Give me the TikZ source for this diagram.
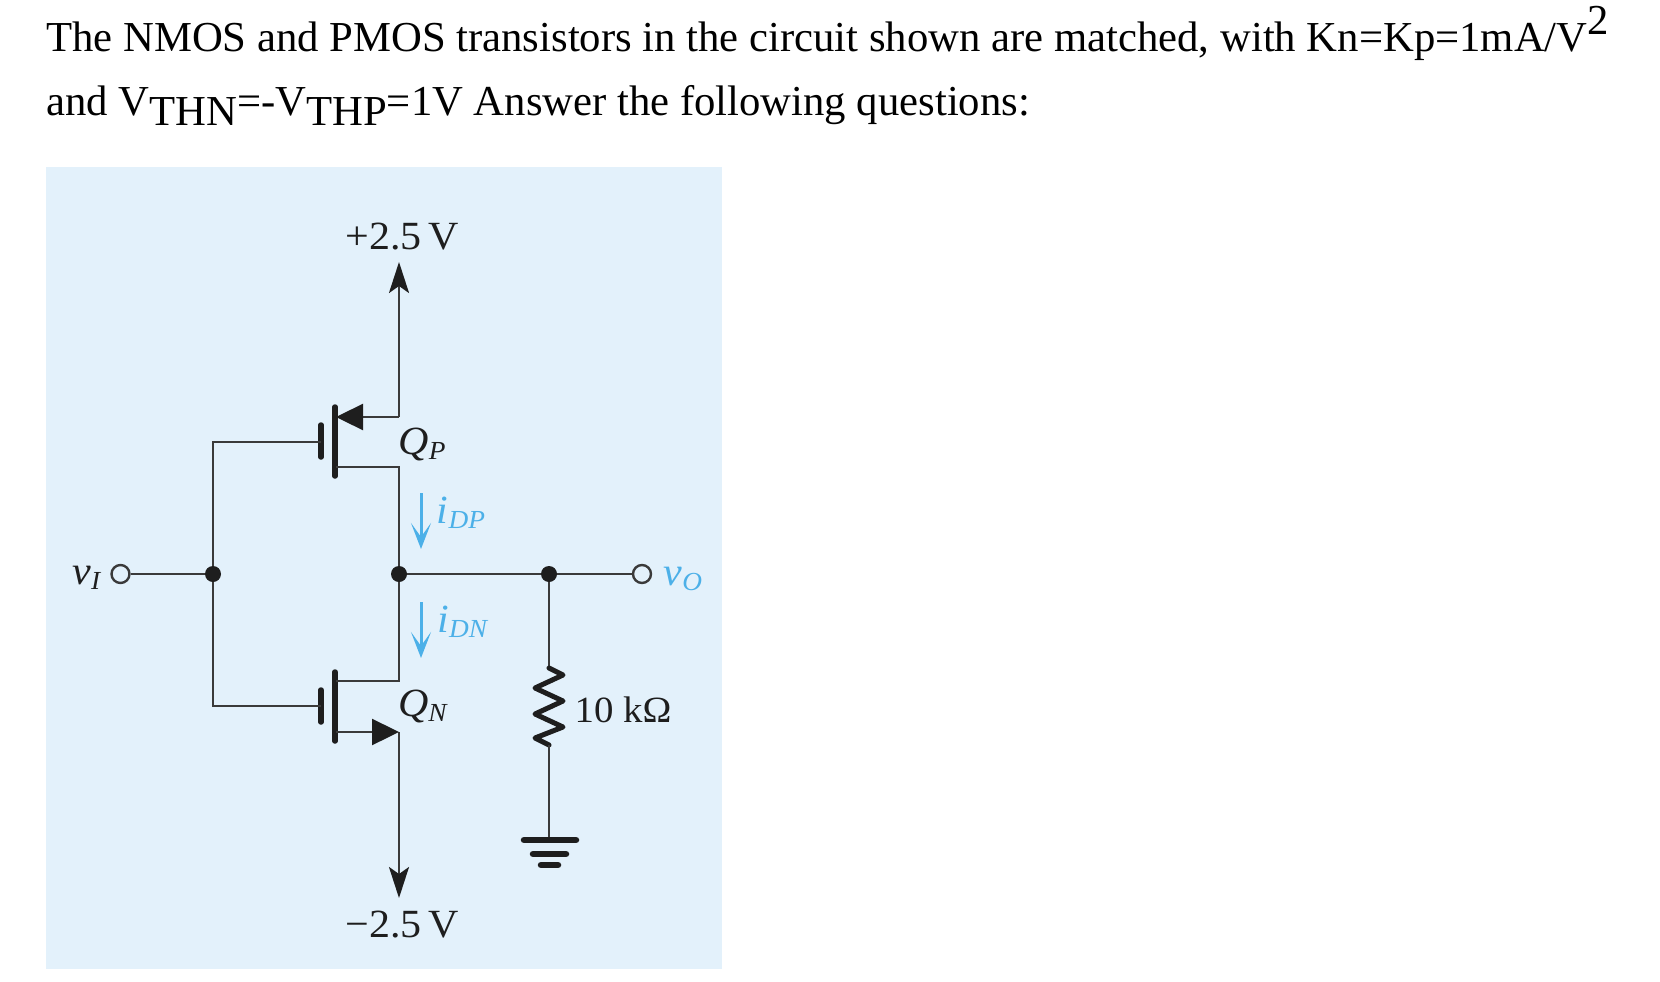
\documentclass[tikz,border=0pt]{standalone}
\usepackage{fontspec}
\setmainfont{Liberation Serif}
\newfontfamily\labelfont[FakeStretch=1.05]{Liberation Serif}
\usetikzlibrary{arrows.meta}
\definecolor{panelblue}{HTML}{E3F1FB}
\definecolor{labelblue}{HTML}{4CB0E8}
\definecolor{wiregray}{HTML}{3A3A3A}
\definecolor{inkblack}{HTML}{1E1E1E}
\newcommand{\lowtext}[1]{\raisebox{-10pt}{#1}}
\newcommand{\subit}[2]{\textit{#1}\raisebox{-5pt}{\fontsize{26}{26}\selectfont\textit{#2}}}
\tikzset{
  wire/.style={draw=wiregray,line width=2.4pt},
  bar/.style={draw=inkblack,line width=5.5pt,line cap=round},
  dot/.style={circle,fill=inkblack,inner sep=0pt,minimum size=16pt},
  term/.style={circle,draw=wiregray,line width=2.4pt,fill=panelblue,inner sep=0pt,minimum size=18pt},
  para/.style={inner sep=0pt,anchor=base west,text=black,font=\fontsize{42.7}{50}\selectfont},
  lbl/.style={inner sep=0pt,text=inkblack,font=\labelfont\fontsize{40}{46}\selectfont},
  blbl/.style={inner sep=0pt,text=labelblue,font=\labelfont\fontsize{40}{46}\selectfont},
  rail/.style={wire,-{Stealth[length=31pt,width=20pt,inset=7pt,color=inkblack,fill=inkblack]}},
  src/.style={wire,-{Triangle[length=27pt,width=26pt,color=inkblack,fill=inkblack]}},
  cur/.style={draw=labelblue,line width=3pt,-{Stealth[length=26pt,width=20pt,inset=14pt]}}
}

\begin{document}
\begin{tikzpicture}[x=1pt,y=-1pt]
  \useasboundingbox (0,0) rectangle (1660,982);
  \fill[panelblue] (46,167) rectangle (722,969);

  \node[para] (lineone) at (46,52) {The NMOS and PMOS transistors in the circuit shown are matched, with Kn=Kp=1mA/V\raisebox{17pt}{2}};
  \node[para] (linetwo) at (46,115) {and V\lowtext{THN}=-V\lowtext{THP}=1V Answer the following questions:};

  % junctions and terminals
  \node[term] (vin) at (120.5,574) {};
  \node[dot] (jin) at (213,574) {};
  \node[dot] (jmid) at (399,574) {};
  \node[dot] (jres) at (549,574) {};
  \node[term] (vout) at (642,574) {};

  % PMOS
  \coordinate (vdd) at (399,262);
  \coordinate (QPs) at (399,417);
  \coordinate (QPd) at (399,467);
  \coordinate (QPsc) at (336,417);
  \coordinate (QPdc) at (336,467);
  \coordinate (QPg) at (321,442);
  \draw[bar] (335,407) -- (335,476);
  \draw[bar] (321,425) -- (321,457);
  \draw[wire] (jin) |- (QPg);
  \draw[wire] (QPdc) -- (QPd) -- (jmid);
  \draw[rail] (QPs) -- (vdd);
  \draw[src] (QPs) -- (QPsc);

  % NMOS
  \coordinate (vss) at (399,898);
  \coordinate (QNd) at (399,681);
  \coordinate (QNs) at (399,732);
  \coordinate (QNdc) at (336,681);
  \coordinate (QNsc) at (336,732);
  \coordinate (QNg) at (321,706);
  \draw[bar] (335,672) -- (335,741);
  \draw[bar] (321,690) -- (321,722);
  \draw[wire] (jin) |- (QNg);
  \draw[wire] (QNdc) -- (QNd) -- (jmid);
  \draw[rail] (QNs) -- (vss);
  \draw[src] (QNsc) -- (QNs);

  % wires
  \draw[wire] (vin) -- (jin);
  \draw[wire] (jmid) -- (jres) -- (vout);

  % load
  \coordinate (Rtop) at (549,668);
  \coordinate (Rbot) at (549,745);
  \coordinate (gnd) at (549,840);
  \draw[wire] (jres) -- (Rtop);
  \draw[inkblack,line width=5pt,line join=round,line cap=round]
    (Rtop) -- (563,675) -- (535,688) -- (563,701) -- (535,714) -- (563,727) -- (535,738) -- (Rbot);
  \draw[wire] (Rbot) -- (gnd);
  \draw[inkblack,line width=6.5pt,line cap=round]
    (524,840) -- (576,840)
    (533,854) -- (566,854)
    (541,865) -- (558,865);

  % currents
  \coordinate (iDPa) at (421,493);
  \coordinate (iDPb) at (421,549);
  \coordinate (iDNa) at (421,602);
  \coordinate (iDNb) at (421,658);
  \draw[cur] (iDPa) -- (iDPb);
  \draw[cur] (iDNa) -- (iDNb);

  % labels
  \node[lbl] (vddlbl) at (402,237) {+2.5\,V};
  \node[lbl] (vsslbl) at (402,925) {\textminus2.5\,V};
  \node[lbl] (QPlbl) at (422,444) {\subit{Q}{P}};
  \node[lbl] (QNlbl) at (423,706) {\subit{Q}{N}};
  \node[lbl] (vinlbl) at (87,578) {\subit{v}{I}};
  \node[blbl] (voutlbl) at (683,579) {\subit{v}{O}};
  \node[blbl] (iDPlbl) at (461,513) {\subit{i}{DP}};
  \node[blbl] (iDNlbl) at (463,622) {\subit{i}{DN}};
  \node[lbl,font=\labelfont\fontsize{37}{44}\selectfont] (Rlbl) at (623,710) {10 kΩ};
\end{tikzpicture}
\end{document}
